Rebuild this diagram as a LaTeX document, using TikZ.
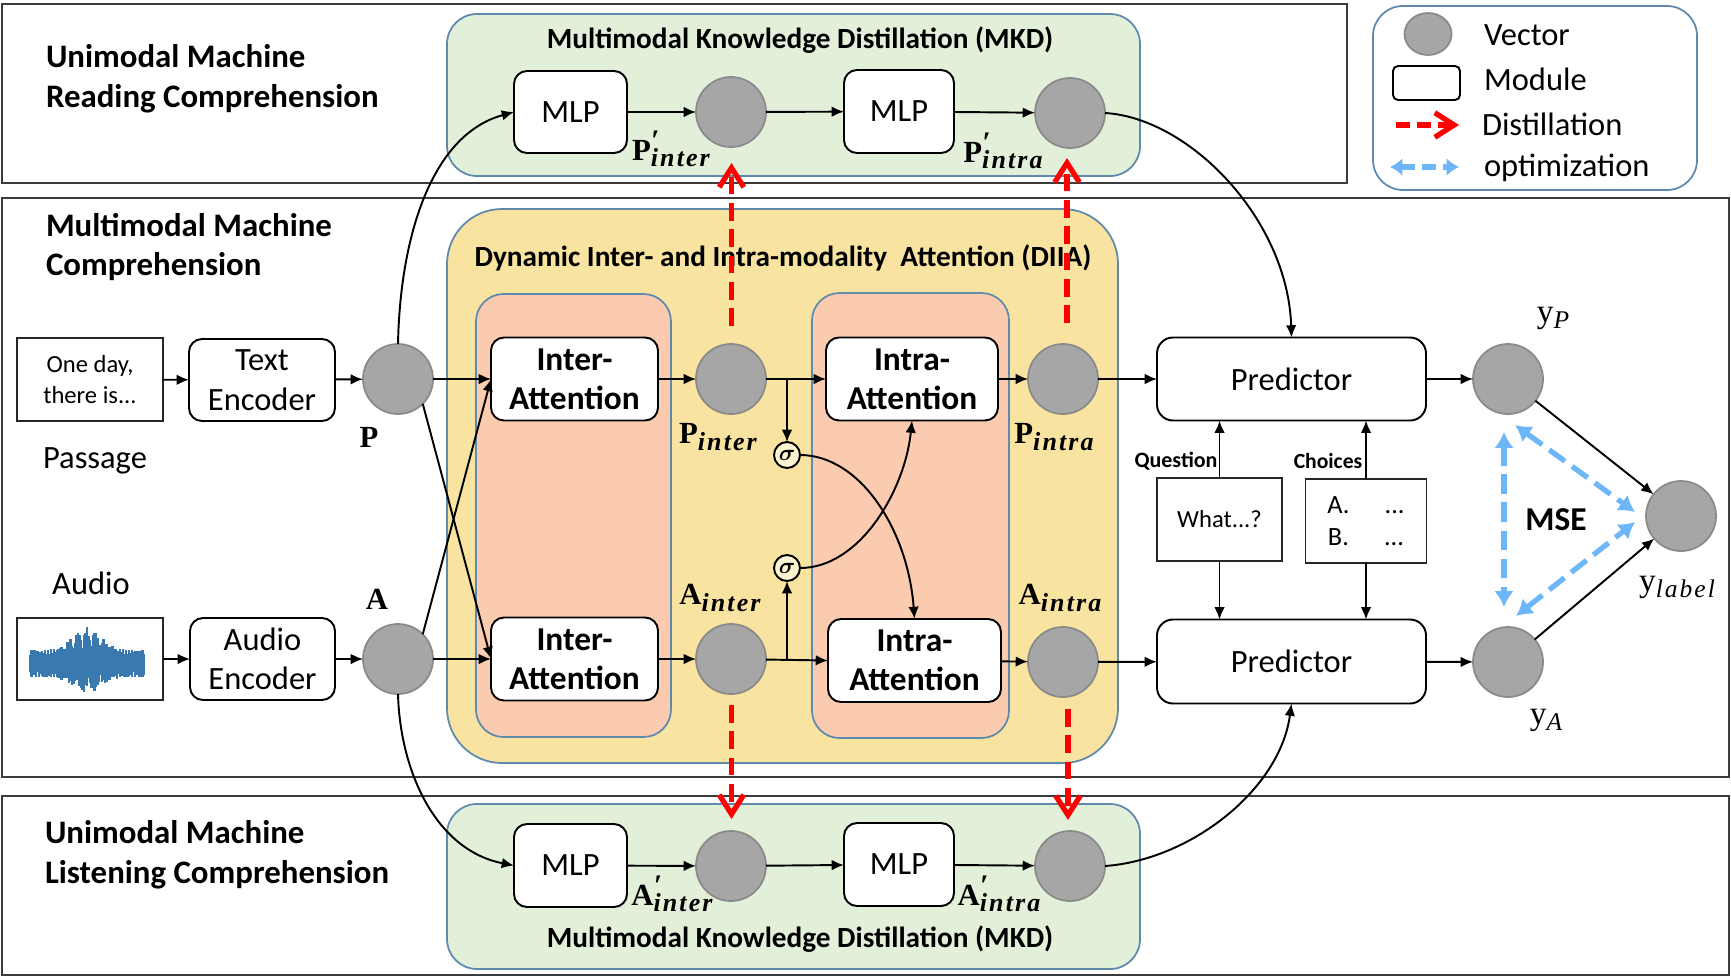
\RequirePackage{fix-cm}
\documentclass[tikz,border=0pt]{standalone}
\usepackage{amsmath}
\usepackage[no-math]{fontspec}
\setmainfont{Carlito}
\newfontfamily\labf{Liberation Serif}
\newfontfamily\labs[LetterSpace=8]{Liberation Serif}
\newcommand{\blab}[3]{{\labf\bfseries\fontsize{17.5}{20}\selectfont #1\rlap{\raisebox{5.5pt}{\fontsize{17}{18}\selectfont\itshape #2}}\raisebox{-3.5pt}{\labs\bfseries\itshape\fontsize{14.8}{17}\selectfont #3}}}
\newcommand{\ylab}[1]{{\labf\fontsize{19}{21}\selectfont y\raisebox{-3.5pt}{\labs\itshape\fontsize{14.5}{17}\selectfont #1}}}
\usetikzlibrary{arrows.meta,shapes.geometric}
\definecolor{framec}{HTML}{3C3C3C}
\definecolor{edgeb}{HTML}{5F8AAE}
\definecolor{greenf}{HTML}{E2F0D9}
\definecolor{yellowf}{HTML}{F8E4A0}
\definecolor{pinkf}{HTML}{FBCBB0}
\definecolor{vecf}{HTML}{A6A6A6}
\definecolor{vecd}{HTML}{8A8A8A}
\definecolor{bluea}{HTML}{6DB6F7}
\definecolor{wave}{HTML}{3A78B0}
\tikzset{
  x=0.02cm,y=-0.02cm,
  sz/.style 2 args={minimum width=#1*0.02cm,minimum height=#2*0.02cm},
  frame/.style={draw=framec,line width=1.5pt},
  panel/.style={draw=edgeb,line width=1pt},
  base/.style={inner sep=0pt,outer sep=0pt,align=center,text=black},
  vec/.style={base,circle,fill=vecf,draw=vecd,line width=1pt,minimum size=1.4cm},
  module/.style={base,draw=black,fill=white,rounded corners=0.26cm,line width=1.1pt,font=\fontsize{18.5}{22.5}\selectfont},
  plainbox/.style={base,draw=black!85,fill=white,line width=1.1pt,font=\fontsize{14}{18}\selectfont},
  attn/.style={module,font=\fontsize{19}{22}\selectfont\bfseries},
  txt/.style={base,font=\fontsize{18.5}{21.5}\selectfont},
  title/.style={base,align=left,anchor=west,font=\fontsize{18.7}{22.7}\selectfont\bfseries},
  mkd/.style={base,font=\fontsize{16.65}{20}\selectfont\bfseries},
  lab/.style={base},
  sig/.style={base,circle,draw=black,fill=yellowf!50!white,line width=1.1pt,minimum size=0.52cm,font=\fontsize{13}{15}\selectfont},
  conn/.style={draw=black,line width=1.1pt,-{Latex[length=7pt,width=6pt]}},
  distil/.style={draw=red,line width=2.9pt,dash pattern=on 10pt off 5pt,-{Straight Barb[length=11pt,width=14pt,line width=3pt]}},
  optim/.style={draw=bluea,line width=3pt,dash pattern=on 11pt off 5pt,{Latex[length=9pt,width=11pt]}-{Latex[length=9pt,width=11pt]}},
}
\begin{document}
\begin{tikzpicture}
\useasboundingbox (0,0) rectangle (1731,978);
\fill[white] (0,0) rectangle (1731,978);
% frames
\draw[frame] (2,4) rectangle (1347,183);
\draw[frame] (2,198) rectangle (1729,777);
\draw[frame] (2,796) rectangle (1729,975);
% legend panel
\draw[panel,fill=white,rounded corners=0.6cm] (1373,6) rectangle (1697,190);
% panels
\draw[panel,fill=greenf,rounded corners=0.6cm] (447,14) rectangle (1140,176);
\draw[panel,fill=greenf,rounded corners=0.6cm] (447,804) rectangle (1140,969);
\draw[panel,fill=yellowf,rounded corners=1.1cm] (447,209) rectangle (1118,763);
\draw[panel,fill=pinkf,rounded corners=0.55cm] (476,294) rectangle (671,737);
\draw[panel,fill=pinkf,rounded corners=0.55cm] (812,293) rectangle (1009,738);
% titles
\node[title] (t1) at (46,79) {Unimodal Machine\\Reading Comprehension};
\node[title] (t2) at (46,247) {Multimodal Machine\\Comprehension};
\node[title] (t3) at (45,855) {Unimodal Machine\\Listening Comprehension};
\node[mkd] (mk1) at (800,40) {Multimodal Knowledge Distillation (MKD)};
\node[mkd] (mk2) at (800,939) {Multimodal Knowledge Distillation (MKD)};
\node[mkd] (dia) at (783,258) {Dynamic Inter- and Intra-modality\ \ Attention (DIIA)};
% input
\node[plainbox,sz={146}{83}] (pass) at (90,379.5) {One day,\\there is...};
\node[txt] (passl) at (95,461) {Passage};
\node[txt] (audl) at (91,583) {Audio};
\node[plainbox,sz={146}{82}] (aud) at (90,659) {};
\foreach \i in {0,...,76}{
  \pgfmathsetmacro{\xx}{30+\i*1.5}
  \pgfmathsetmacro{\en}{exp(-((\xx-87)/20)^2)}
  \pgfmathsetmacro{\up}{8+abs(sin(\i*97))*5+\en*(4+19*abs(sin(\i*211)))}
  \pgfmathsetmacro{\dn}{9+abs(sin(\i*73))*5+\en*(3+13*abs(sin(\i*157)))}
  \draw[wave,line width=1.2pt] (\xx,663-\up) -- (\xx,663+\dn);
}
\node[module,sz={146}{82}] (tenc) at (262,380) {Text\\Encoder};
\node[module,sz={145}{82}] (aenc) at (262.5,659) {Audio\\Encoder};
\node[vec] (P) at (398,379) {};
\node[vec] (A) at (398,659) {};
\node[lab] (Pl) at (369,440) {\blab{P}{}{}};
\node[lab] (Al) at (377,602) {\blab{A}{}{}};
% DIIA
\node[attn,sz={167}{83}] (it) at (574.5,379) {Inter-\\Attention};
\node[attn,sz={167}{83}] (ib) at (574.5,659) {Inter-\\Attention};
\node[attn,sz={172}{83}] (rt) at (912,379) {Intra-\\Attention};
\node[attn,sz={173}{83}] (rb) at (914.5,660.5) {Intra-\\Attention};
\node[vec] (pi) at (731,379) {};
\node[vec] (ai) at (731,659) {};
\node[vec] (pr) at (1063,379) {};
\node[vec] (ar) at (1063,662) {};
\node[sig] (s1) at (787,455) {$\boldsymbol{\sigma}$};
\node[sig] (s2) at (787,568) {$\boldsymbol{\sigma}$};
\node[lab] (pil) at (718,437) {\blab{P}{}{inter}};
\node[lab] (prl) at (1054,437) {\blab{P}{}{intra}};
\node[lab] (ail) at (720,598) {\blab{A}{}{inter}};
\node[lab] (arl) at (1060,598) {\blab{A}{}{intra}};
% MKD top
\node[module,sz={113}{82}] (m1) at (570.5,112) {MLP};
\node[vec] (v1) at (731,112) {};
\node[module,sz={110}{83}] (m2) at (899,111.5) {MLP};
\node[vec] (v2) at (1070,113) {};
\node[lab] (v1l) at (671,149) {\blab{P}{′}{inter}};
\node[lab] (v2l) at (1003,151) {\blab{P}{′}{intra}};
% MKD bottom
\node[module,sz={113}{83}] (m3) at (570.5,865.5) {MLP};
\node[vec] (v3) at (731,866) {};
\node[module,sz={110}{83}] (m4) at (899,864.5) {MLP};
\node[vec] (v4) at (1070,866) {};
\node[lab] (v3l) at (672,894) {\blab{A}{′}{inter}};
\node[lab] (v4l) at (999,894) {\blab{A}{′}{intra}};
% predictors
\node[module,sz={269}{83},rounded corners=0.32cm] (pt) at (1291.5,379) {Predictor};
\node[module,sz={269}{84},rounded corners=0.32cm] (pb) at (1291.5,661.5) {Predictor};
\node[plainbox,sz={125}{83}] (q) at (1219.5,519.5) {What...?};
\node[plainbox,sz={121}{84},font=\fontsize{15}{18}\selectfont] (c) at (1366,521) {A.\hspace{20pt}...\\B.\hspace{20pt}...};
\node[base,font=\fontsize{12.5}{15}\selectfont\bfseries] (ql) at (1176,461) {Question};
\node[base,font=\fontsize{12.3}{15}\selectfont\bfseries] (cl) at (1328,461) {Choices};
\node[vec] (yp) at (1508,379) {};
\node[vec] (ya) at (1508,662) {};
\node[vec] (yl) at (1681,516) {};
\node[lab] (ypl) at (1553,318) {\ylab{P}};
\node[lab] (yal) at (1546,720) {\ylab{A}};
\node[lab] (yll) at (1677,587) {\ylab{label}};
\node[base,font=\fontsize{19}{21}\selectfont\bfseries] (mse) at (1556,520) {MSE};
% connectors
\draw[conn] (pass) -- (tenc);
\draw[conn] (aud) -- (aenc);
\draw[conn] (tenc) -- (P);
\draw[conn] (aenc) -- (A);
\draw[conn] (P) -- (it);
\draw[conn] (A) -- (ib);
\draw[conn] (P.south east) -- (ib.west);
\draw[conn] (A.north east) -- (it.west);
\draw[conn] (it) -- (pi);
\draw[conn] (ib) -- (ai);
\draw[conn] (pi) -- (rt);
\draw[conn] (ai) -- (rb.west);
\draw[conn] (rt) -- (pr);
\draw[conn] (rb) -- (ar);
\draw[conn] (pr) -- (pt);
\draw[conn] (ar) -- (pb);
\draw[conn] (pt) -- (yp);
\draw[conn] (pb) -- (ya);
\draw[conn] (yp) -- (yl);
\draw[conn] (ya) -- (yl);
\draw[conn] (pi -| s1) -- (s1);
\draw[conn] (ai -| s2) -- (s2);
\draw[conn] (s1.east) .. controls (860,455) and (908,530) .. (rb.north);
\draw[conn] (s2.east) .. controls (860,568) and (905,490) .. (rt.south);
\draw[conn] (m1) -- (v1);
\draw[conn] (v1) -- (m2);
\draw[conn] (m2) -- (v2);
\draw[conn] (m3) -- (v3);
\draw[conn] (v3) -- (m4);
\draw[conn] (m4) -- (v4);
\draw[conn] (P.north) .. controls (400,240) and (430,135) .. (m1.west);
\draw[conn] (A.south) .. controls (400,770) and (435,850) .. (m3.west);
\draw[conn] (v2.east) .. controls (1190,118) and (1288,220) .. (pt.north);
\draw[conn] (v4.east) .. controls (1190,860) and (1280,790) .. (pb.south);
\draw[conn] (q.north) -- (q.north |- pt.south);
\draw[conn] (c.north) -- (c.north |- pt.south);
\draw[conn] (q.south) -- (q.south |- pb.north);
\draw[conn] (c.south) -- (c.south |- pb.north);
% distillation
\coordinate (d1a) at (731.5,326); \coordinate (d1b) at (731.5,163);
\coordinate (d2a) at (1067,323); \coordinate (d2b) at (1067,158);
\coordinate (d3a) at (731.5,705); \coordinate (d3b) at (731.5,819);
\coordinate (d4a) at (1068,709); \coordinate (d4b) at (1068,820);
\draw[distil] (d1a) -- (d1b);
\draw[distil] (d2a) -- (d2b);
\draw[distil] (d3a) -- (d3b);
\draw[distil] (d4a) -- (d4b);
% optimisation
\coordinate (o1a) at (1504,432); \coordinate (o1b) at (1504,607);
\coordinate (o2a) at (1515,425); \coordinate (o2b) at (1635,512);
\coordinate (o3a) at (1516,616); \coordinate (o3b) at (1635,522);
\draw[optim] (o1a) -- (o1b);
\draw[optim] (o2a) -- (o2b);
\draw[optim] (o3a) -- (o3b);
% legend
\node[base,ellipse,fill=vecf,draw=vecd,line width=1pt,minimum width=0.94cm,minimum height=0.84cm] (lv) at (1428,34) {};
\node[base,draw=black,rounded corners=0.1cm,line width=1.1pt,sz={67}{34}] (lm) at (1426.5,83) {};
\coordinate (lra) at (1396,125); \coordinate (lrb) at (1459,125);
\draw[draw=red,line width=3pt,dash pattern=on 8pt off 4pt,-{Straight Barb[length=11pt,width=14pt,line width=3pt]}] (lra) -- (lrb);
\coordinate (lba) at (1390,167); \coordinate (lbb) at (1459,167);
\draw[draw=bluea,line width=3pt,dash pattern=on 8pt off 4pt,{Latex[length=7pt,width=10pt]}-{Latex[length=7pt,width=10pt]}] (lba) -- (lbb);
\node[txt,anchor=west] (l1) at (1484,35) {Vector};
\node[txt,anchor=west] (l2) at (1484,79) {Module};
\node[txt,anchor=west] (l3) at (1482,124) {Distillation};
\node[txt,anchor=west] (l4) at (1484,168) {optimization};
\end{tikzpicture}
\end{document}
